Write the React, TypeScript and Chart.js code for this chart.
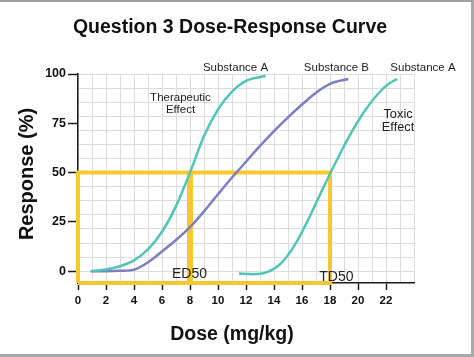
import { useEffect, useRef } from 'react';
import { Chart, registerables } from 'chart.js';

Chart.register(...registerables);

const TITLE = 'Question 3 Dose-Response Curve';
const X_TITLE = 'Dose (mg/kg)';
const Y_TITLE = 'Response (%)';

const xTickValues = [0, 2, 4, 6, 8, 10, 12, 14, 16, 18, 20, 22];
const yTickValues = [0, 25, 50, 75, 100];
const xMin = 0;
const xMax = 24;
const yMin = -6;
const yMax = 100;

// Substance A – therapeutic effect
const therapeuticX = [0.9, 2, 3, 4, 5, 6, 7, 8, 9, 10, 11, 12, 13.4];
const therapeuticY = [0, 0.8, 2.5, 5.5, 11, 20, 33, 50, 68.5, 82, 91, 96.5, 99];

// Substance B
const substanceBX = [0.9, 2, 3, 4, 5, 6, 7, 8, 9, 10, 11, 12, 13, 14, 15, 16, 17, 18, 19.3];
const substanceBY = [0, 0, 0.2, 0.8, 4.5, 10, 15.8, 22.3, 30.3, 39, 47.5, 55.5, 63.5, 71, 78, 84.5, 90.5, 95, 97.5];

// Substance A – toxic effect
const toxicX = [11.5, 12.5, 13.5, 14.5, 15.5, 16.5, 17.5, 18.5, 19.5, 20.5, 21.5, 22.2, 22.8];
const toxicY = [-1.2, -1.5, -0.5, 4, 13.5, 27, 42, 56.5, 70, 81.5, 90.5, 95, 97.5];

// ED50 / TD50 guide box
const boxX = [0, 0, 18, 18, 0];
const boxY = [-6, 50, 50, -6, -6];
const ed50X = [8, 8];
const ed50Y = [-6, 50];

// annotations
const annotationTexts = [['Substance A'], ['Substance B'], ['Substance A'], ['Therapeutic', 'Effect'], ['Toxic', 'Effect'], ['ED50'], ['TD50']];
const annotationX = [11.25, 18.46, 24.64, 7.32, 22.86, 7.96, 18.46];
const annotationY = [103.3, 103.3, 103.3, 84.7, 76.2, -1.4, -3.2];
const annotationSizes = [11.5, 11.5, 11.5, 11.5, 12.8, 14, 14];

const FONT = '"Liberation Sans", Arial, Helvetica, sans-serif';
const TEAL = '#52c4b8';
const PURPLE = '#7b7fc1';
const YELLOW = '#f8c833';
const AXIS = '#1c1c1c';
const GRID = '#dcdcdc';

const toPoints = (xs: number[], ys: number[]) => xs.map((x, i) => ({ x, y: ys[i] }));

const textPlugin = {
  id: 'textPlugin',
  afterDatasetsDraw(chart: any) {
    const { ctx, scales } = chart;
    const xs = scales.x;
    const ys = scales.y;
    ctx.save();
    ctx.fillStyle = '#222';
    ctx.textAlign = 'center';
    ctx.textBaseline = 'middle';
    annotationTexts.forEach((lines, i) => {
      const size = annotationSizes[i];
      const lh = size * 1.02;
      ctx.font = `${size}px ${FONT}`;
      const cx = xs.getPixelForValue(annotationX[i]);
      const cy = ys.getPixelForValue(annotationY[i]);
      const top = cy - ((lines.length - 1) * lh) / 2;
      lines.forEach((t, j) => ctx.fillText(t, cx, top + j * lh));
    });
    ctx.restore();
  },
  afterDraw(chart: any) {
    const { ctx } = chart;
    ctx.save();
    ctx.fillStyle = '#111';
    ctx.textAlign = 'center';
    ctx.textBaseline = 'middle';
    ctx.font = `bold 19.5px ${FONT}`;
    ctx.fillText(TITLE, 230, 28);
    ctx.fillText(X_TITLE, 232, 335);
    ctx.translate(27, 174);
    ctx.rotate(-Math.PI / 2);
    ctx.font = `bold 20px ${FONT}`;
    ctx.fillText(Y_TITLE, 0, 0);
    ctx.restore();
  },
};

export default function App() {
  const ref = useRef<HTMLCanvasElement | null>(null);

  useEffect(() => {
    if (!ref.current) return;
    const chart = new Chart(ref.current, {
      type: 'line',
      data: {
        datasets: [
          { data: toPoints(therapeuticX, therapeuticY), borderColor: TEAL, borderWidth: 2.5, pointRadius: 0, cubicInterpolationMode: 'monotone', fill: false, clip: false },
          { data: toPoints(substanceBX, substanceBY), borderColor: PURPLE, borderWidth: 2.5, pointRadius: 0, cubicInterpolationMode: 'monotone', fill: false, clip: false },
          { data: toPoints(toxicX, toxicY), borderColor: TEAL, borderWidth: 2.5, pointRadius: 0, cubicInterpolationMode: 'monotone', fill: false, clip: false },
          { data: toPoints(boxX, boxY), borderColor: YELLOW, borderWidth: 4, pointRadius: 0, tension: 0, fill: false, clip: false, borderJoinStyle: 'miter' },
          { data: toPoints(ed50X, ed50Y), borderColor: YELLOW, borderWidth: 6, pointRadius: 0, tension: 0, fill: false, clip: false },
        ] as any,
      },
      options: {
        animation: false,
        responsive: false,
        events: [],
        layout: { padding: { left: 0, right: 60, top: 74, bottom: 0 } },
        plugins: { legend: { display: false }, title: { display: false }, tooltip: { enabled: false } },
        scales: {
          x: {
            type: 'linear',
            min: xMin,
            max: xMax,
            position: 'bottom',
            afterBuildTicks: (s: any) => { s.ticks = xTickValues.map((v) => ({ value: v })); },
            afterFit: (s: any) => { s.height = 74; },
            grid: { drawOnChartArea: false, drawTicks: true, tickLength: 7, tickColor: AXIS, tickWidth: 1.5 },
            border: { display: true, color: AXIS, width: 1.5 },
            ticks: { font: { family: FONT, size: 11.5, weight: 'bold' }, color: '#111', padding: 4, maxRotation: 0, autoSkip: false },
          },
          xGrid: {
            type: 'linear',
            min: xMin,
            max: xMax,
            position: 'bottom',
            afterBuildTicks: (s: any) => {
              const t = [];
              for (let v = xMin; v <= xMax; v += 1) t.push({ value: v });
              s.ticks = t;
            },
            afterFit: (s: any) => { s.height = 0; },
            grid: { drawOnChartArea: true, drawTicks: false, color: GRID, lineWidth: 1 },
            border: { display: false },
            ticks: { display: false },
          },
          y: {
            type: 'linear',
            min: yMin,
            max: yMax,
            position: 'left',
            afterBuildTicks: (s: any) => { s.ticks = yTickValues.map((v) => ({ value: v })); },
            afterFit: (s: any) => { s.width = 78; },
            grid: { drawOnChartArea: false, drawTicks: true, tickLength: 10, tickColor: AXIS, tickWidth: 1.5 },
            border: { display: true, color: AXIS, width: 1.5 },
            ticks: { font: { family: FONT, size: 12.5, weight: 'bold' }, color: '#111', padding: 2 },
          },
          yGrid: {
            type: 'linear',
            min: yMin,
            max: yMax,
            position: 'left',
            afterBuildTicks: (s: any) => {
              const t = [];
              for (let k = 0; k <= 14; k++) {
                const v = yMax - (k * 100) / 14;
                if (v >= yMin) t.push({ value: v });
              }
              s.ticks = t;
            },
            afterFit: (s: any) => { s.width = 0; },
            grid: { drawOnChartArea: true, drawTicks: false, color: GRID, lineWidth: 1 },
            border: { display: false },
            ticks: { display: false },
          },
        },
      } as any,
      plugins: [textPlugin],
    });
    return () => chart.destroy();
  }, []);

  return (
    <div style={{ position: 'absolute', left: 0, top: 0, width: 474, height: 357, background: '#fff' }}>
      <canvas ref={ref} width={474} height={357} style={{ position: 'absolute', left: 0, top: 0, width: 474, height: 357 }} />
      <div style={{ position: 'absolute', left: 0, top: 0, width: 474, height: 357, boxSizing: 'border-box', borderTop: '2px solid #a0a0a0', borderRight: '3px solid #a8a8a8', borderBottom: '3px solid #a8a8a8', pointerEvents: 'none' }} />
    </div>
  );
}
